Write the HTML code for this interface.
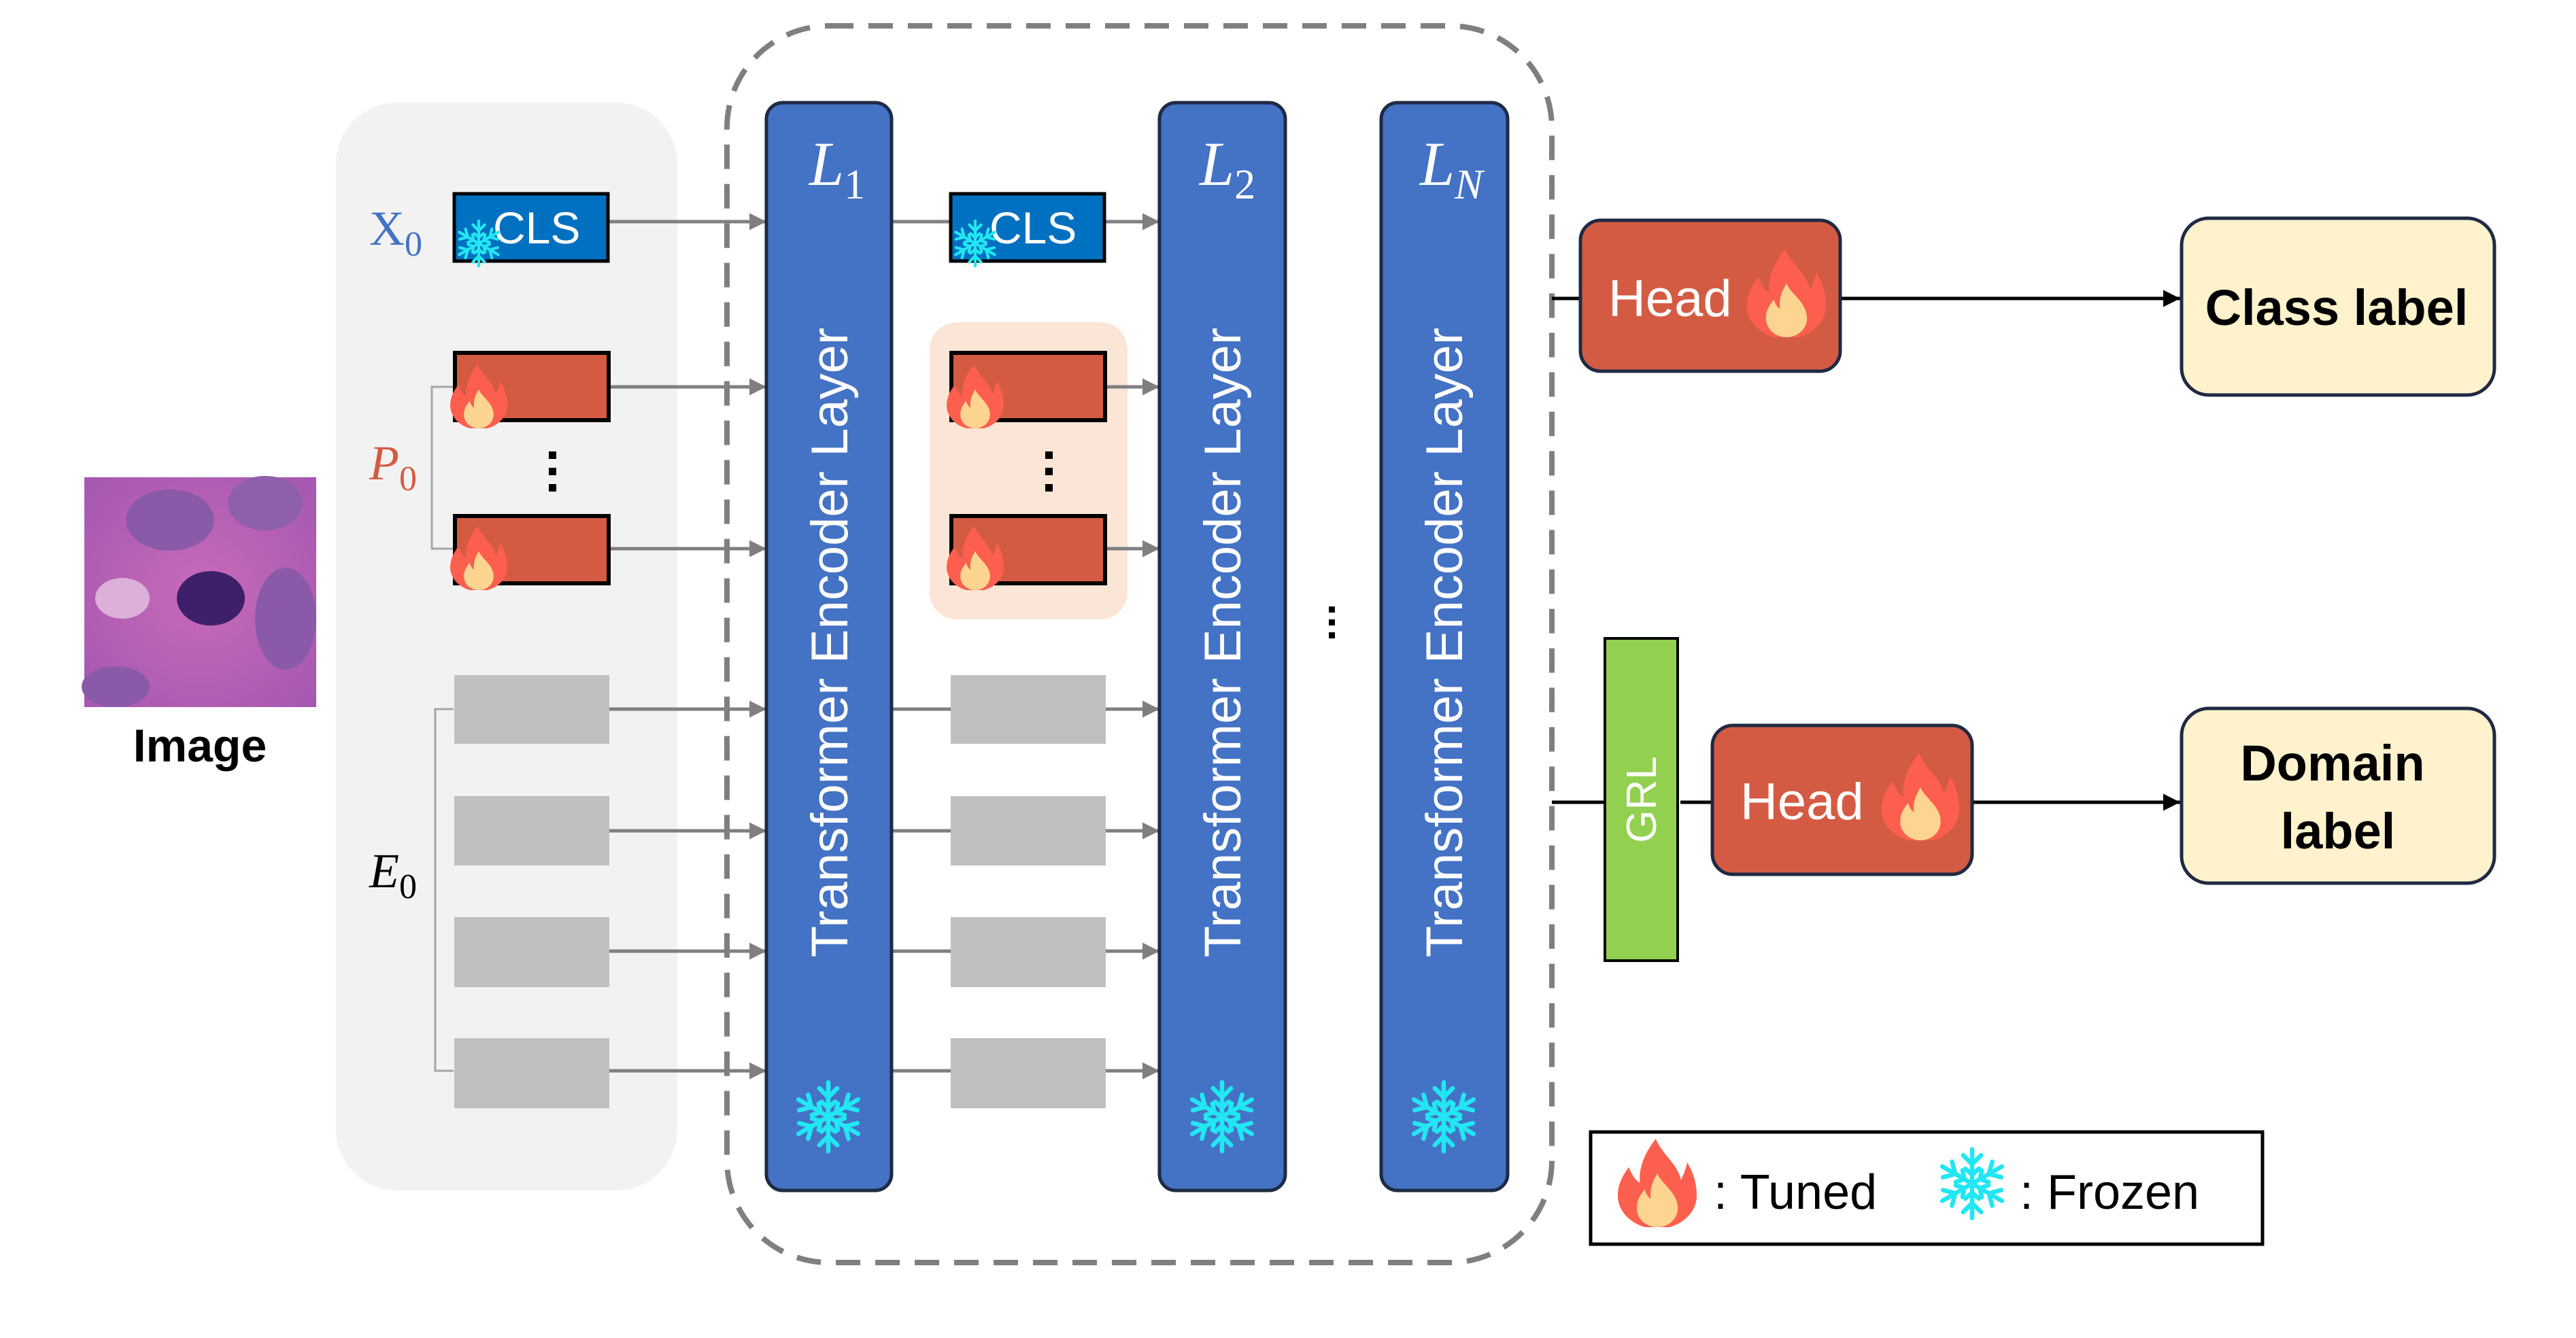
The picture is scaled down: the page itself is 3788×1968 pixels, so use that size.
<!DOCTYPE html>
<html><head><meta charset="utf-8"><style>html,body{margin:0;padding:0;background:#fff}svg{display:block}</style></head>
<body>
<svg width="3788" height="1968" viewBox="0 0 3788 1968" xmlns="http://www.w3.org/2000/svg" font-family="Liberation Sans, sans-serif">
<defs>
<symbol id="fire" viewBox="0 0 100 112">
<path d="M48 0 C58 22 76 32 80 52 C84 44 86 38 88 30 C98 46 100 62 100 72 A50 42 0 0 1 0 72 C0 56 8 44 14 36 C18 46 22 52 28 56 C26 34 36 16 48 0Z" fill="#fd5f4f"/>
<path d="M50 44 C56 58 76 68 76 88 A26 24 0 0 1 24 88 C24 76 30 70 34 64 C36 70 38 74 42 76 C40 64 44 54 50 44Z" fill="#fdd591"/>
</symbol>
<symbol id="snow" viewBox="-50 -50 100 100">
<g stroke="#22e6f2" stroke-width="6" stroke-linecap="round" fill="none">
<g id="arm"><line x1="0" y1="0" x2="0" y2="-46"/><polyline points="-12,-38 0,-26 12,-38"/><polyline points="-9,-20 0,-12 9,-20"/></g>
<use href="#arm" transform="rotate(60)"/><use href="#arm" transform="rotate(120)"/><use href="#arm" transform="rotate(180)"/><use href="#arm" transform="rotate(240)"/><use href="#arm" transform="rotate(300)"/>
</g>
</symbol>
<marker id="ag" viewBox="0 0 10 10" refX="10" refY="5" markerWidth="5" markerHeight="5" orient="auto"><path d="M0 0L10 5L0 10Z" fill="#7f7f7f"/></marker>
<marker id="ab" viewBox="0 0 10 10" refX="10" refY="5" markerWidth="5" markerHeight="5" orient="auto"><path d="M0 0L10 5L0 10Z" fill="#000"/></marker>
<radialGradient id="cell" cx="50%" cy="50%" r="70%"><stop offset="0" stop-color="#c86ab8"/><stop offset="1" stop-color="#a458b0"/></radialGradient>
</defs>

<rect x="124" y="702" width="341" height="338" fill="url(#cell)"/>
<ellipse cx="250" cy="765" rx="65" ry="45" fill="#8a5aa8"/>
<ellipse cx="390" cy="740" rx="55" ry="40" fill="#8e60ac"/>
<ellipse cx="310" cy="880" rx="50" ry="40" fill="#3e1f6a"/>
<ellipse cx="420" cy="910" rx="45" ry="75" fill="#8a5aa8"/>
<ellipse cx="170" cy="1010" rx="50" ry="30" fill="#8a5aa8"/>
<ellipse cx="180" cy="880" rx="40" ry="30" fill="#dcb0d8"/>
<text x="294" y="1120" font-size="68" font-weight="bold" text-anchor="middle" fill="#000">Image</text>

<rect x="494" y="151" width="502" height="1600" rx="90" fill="#f2f2f2"/>
<rect x="1069" y="38" width="1213" height="1819" rx="150" fill="none" stroke="#7f7f7f" stroke-width="8" stroke-dasharray="36,22"/>
<rect x="1367" y="474" width="291" height="437" rx="40" fill="#fbe5d6"/>

<text x="543" y="360" font-family="Liberation Serif, serif" font-size="72" fill="#4472c4">X<tspan font-size="52" dy="16">0</tspan></text>
<text x="543" y="705" font-family="Liberation Serif, serif" font-style="italic" font-size="72" fill="#d45b43">P<tspan font-size="52" dy="16" font-style="normal">0</tspan></text>
<text x="543" y="1305" font-family="Liberation Serif, serif" font-style="italic" font-size="72" fill="#000">E<tspan font-size="52" dy="16" font-style="normal">0</tspan></text>

<polyline points="667,569 635,569 635,807 667,807" fill="none" stroke="#a6a6a6" stroke-width="3"/>
<polyline points="667,1043 640,1043 640,1575 667,1575" fill="none" stroke="#a6a6a6" stroke-width="3"/>

<g stroke="#7f7f7f" stroke-width="5" marker-end="url(#ag)">
<line x1="896" y1="326" x2="1127" y2="326"/>
<line x1="896" y1="569" x2="1127" y2="569"/>
<line x1="896" y1="807" x2="1127" y2="807"/>
<line x1="896" y1="1043" x2="1127" y2="1043"/>
<line x1="896" y1="1222" x2="1127" y2="1222"/>
<line x1="896" y1="1399" x2="1127" y2="1399"/>
<line x1="896" y1="1575" x2="1127" y2="1575"/>
<line x1="1626" y1="326" x2="1705" y2="326"/>
<line x1="1626" y1="569" x2="1705" y2="569"/>
<line x1="1626" y1="807" x2="1705" y2="807"/>
<line x1="1626" y1="1043" x2="1705" y2="1043"/>
<line x1="1626" y1="1222" x2="1705" y2="1222"/>
<line x1="1626" y1="1399" x2="1705" y2="1399"/>
<line x1="1626" y1="1575" x2="1705" y2="1575"/>
</g>
<g stroke="#7f7f7f" stroke-width="5">
<line x1="1311" y1="326" x2="1398" y2="326"/>
<line x1="1311" y1="1043" x2="1398" y2="1043"/>
<line x1="1311" y1="1222" x2="1398" y2="1222"/>
<line x1="1311" y1="1399" x2="1398" y2="1399"/>
<line x1="1311" y1="1575" x2="1398" y2="1575"/>
</g>

<rect x="668" y="285" width="226" height="99" fill="#0070c0" stroke="#000" stroke-width="5"/>
<text x="725" y="358" font-size="66" fill="#fff">CLS</text>
<use href="#snow" x="668" y="320" width="72" height="76"/>
<rect x="669" y="519" width="226" height="99" fill="#d45b43" stroke="#000" stroke-width="6"/>
<rect x="669" y="759" width="226" height="99" fill="#d45b43" stroke="#000" stroke-width="6"/>
<use href="#fire" x="662" y="536" width="84" height="94"/>
<use href="#fire" x="662" y="774" width="84" height="94"/>
<g fill="#000"><rect x="807" y="664" width="11" height="11"/><rect x="807" y="688" width="11" height="11"/><rect x="807" y="712" width="11" height="11"/></g>
<g fill="#bfbfbf">
<rect x="668" y="993" width="228" height="101"/><rect x="668" y="1171" width="228" height="102"/><rect x="668" y="1349" width="228" height="103"/><rect x="668" y="1527" width="228" height="103"/>
<rect x="1398" y="993" width="228" height="101"/><rect x="1398" y="1171" width="228" height="102"/><rect x="1398" y="1349" width="228" height="103"/><rect x="1398" y="1527" width="228" height="103"/>
</g>

<rect x="1398" y="285" width="226" height="99" fill="#0070c0" stroke="#000" stroke-width="5"/>
<text x="1455" y="358" font-size="66" fill="#fff">CLS</text>
<use href="#snow" x="1398" y="320" width="72" height="76"/>
<rect x="1399" y="519" width="226" height="99" fill="#d45b43" stroke="#000" stroke-width="6"/>
<rect x="1399" y="759" width="226" height="99" fill="#d45b43" stroke="#000" stroke-width="6"/>
<use href="#fire" x="1392" y="536" width="84" height="94"/>
<use href="#fire" x="1392" y="774" width="84" height="94"/>
<g fill="#000"><rect x="1537" y="664" width="11" height="11"/><rect x="1537" y="688" width="11" height="11"/><rect x="1537" y="712" width="11" height="11"/></g>

<g fill="#4472c4" stroke="#1f2a44" stroke-width="5">
<rect x="1127" y="151" width="184" height="1600" rx="24"/>
<rect x="1705" y="151" width="185" height="1600" rx="24"/>
<rect x="2031" y="151" width="186" height="1600" rx="24"/>
</g>
<g fill="#fff" font-family="Liberation Serif, serif" font-style="italic" font-size="92">
<text x="1190" y="272">L<tspan font-style="normal" font-size="62" dy="20">1</tspan></text>
<text x="1764" y="272">L<tspan font-style="normal" font-size="62" dy="20">2</tspan></text>
<text x="2088" y="272">L<tspan font-size="62" dy="20">N</tspan></text>
</g>
<g fill="#fff" font-size="76" text-anchor="middle">
<text transform="translate(1246,945) rotate(-90)">Transformer Encoder Layer</text>
<text transform="translate(1824,945) rotate(-90)">Transformer Encoder Layer</text>
<text transform="translate(2150,945) rotate(-90)">Transformer Encoder Layer</text>
</g>
<use href="#snow" x="1163" y="1585" width="110" height="115"/>
<use href="#snow" x="1742" y="1585" width="110" height="115"/>
<use href="#snow" x="2068" y="1585" width="110" height="115"/>
<g fill="#000"><rect x="1954" y="892" width="9" height="9"/><rect x="1954" y="911" width="9" height="9"/><rect x="1954" y="930" width="9" height="9"/></g>

<line x1="2282" y1="439" x2="2324" y2="439" stroke="#000" stroke-width="5"/>
<line x1="2706" y1="439" x2="3206" y2="439" stroke="#000" stroke-width="5" marker-end="url(#ab)"/>
<rect x="2324" y="324" width="382" height="222" rx="30" fill="#d45b43" stroke="#1f2a44" stroke-width="5"/>
<text x="2365" y="465" font-size="76" fill="#fff">Head</text>
<use href="#fire" x="2568" y="366" width="118" height="130"/>
<rect x="3208" y="321" width="460" height="260" rx="40" fill="#fff2cc" stroke="#1f2a44" stroke-width="5"/>
<text x="3436" y="478" font-size="74" font-weight="bold" text-anchor="middle" fill="#000">Class label</text>

<line x1="2282" y1="1180" x2="2360" y2="1180" stroke="#000" stroke-width="5"/>
<line x1="2471" y1="1180" x2="2518" y2="1180" stroke="#000" stroke-width="5"/>
<line x1="2900" y1="1180" x2="3206" y2="1180" stroke="#000" stroke-width="5" marker-end="url(#ab)"/>
<rect x="2360" y="939" width="107" height="474" fill="#92d050" stroke="#000" stroke-width="4"/>
<text transform="translate(2435,1176) rotate(-90)" font-size="62" fill="#fff" text-anchor="middle">GRL</text>
<rect x="2518" y="1067" width="382" height="219" rx="30" fill="#d45b43" stroke="#1f2a44" stroke-width="5"/>
<text x="2559" y="1205" font-size="76" fill="#fff">Head</text>
<use href="#fire" x="2765" y="1108" width="118" height="128"/>
<rect x="3208" y="1042" width="460" height="257" rx="40" fill="#fff2cc" stroke="#1f2a44" stroke-width="5"/>
<text x="3430" y="1148" font-size="74" font-weight="bold" text-anchor="middle" fill="#000">Domain</text>
<text x="3438" y="1248" font-size="74" font-weight="bold" text-anchor="middle" fill="#000">label</text>

<rect x="2339" y="1665" width="988" height="165" fill="#fff" stroke="#000" stroke-width="5"/>
<use href="#fire" x="2378" y="1675" width="118" height="130"/>
<text x="2520" y="1778" font-size="72" fill="#000">: Tuned</text>
<use href="#snow" x="2845" y="1682" width="110" height="118"/>
<text x="2970" y="1778" font-size="72" fill="#000">: Frozen</text>
</svg>
</body></html>
